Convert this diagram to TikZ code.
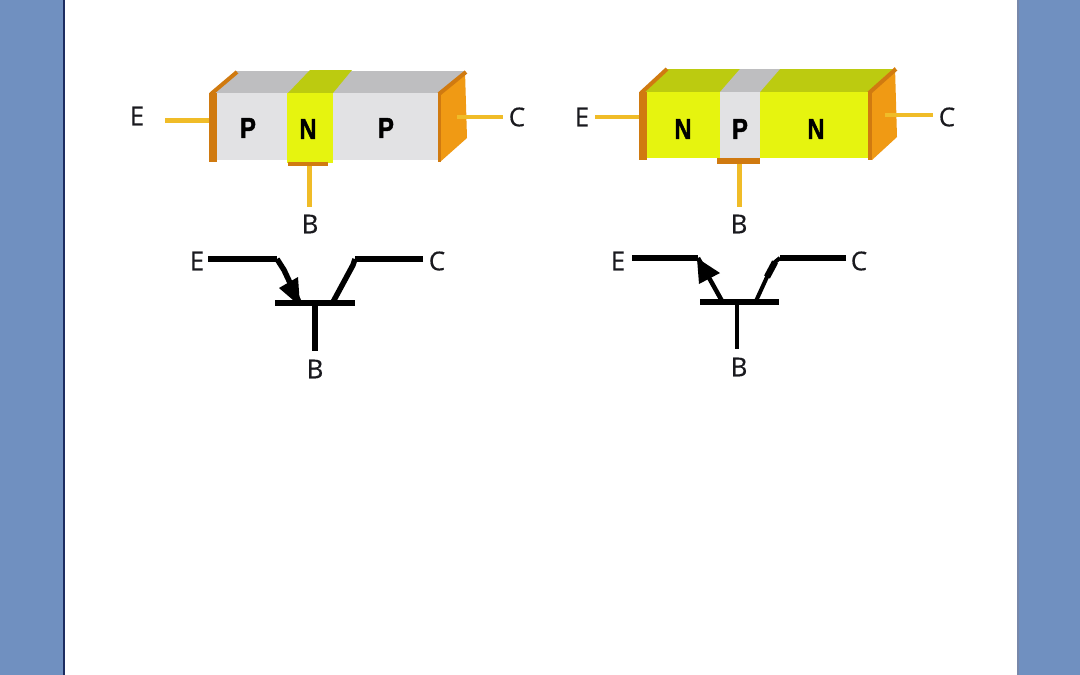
\documentclass[tikz,border=0pt]{standalone}
\usepackage{fontspec}
\setmainfont[FakeBold=0.35]{Open Sans}
\newfontfamily\letterfont[BoldFeatures={FakeBold=1.6}]{Liberation Sans}
\definecolor{sideblue}{RGB}{112,144,192}
\definecolor{edgenavy}{RGB}{28,44,96}
\definecolor{edgegrey}{RGB}{120,136,170}
\definecolor{frontgrey}{RGB}{226,226,228}
\definecolor{topgrey}{RGB}{190,190,192}
\definecolor{frontyellow}{RGB}{230,244,15}
\definecolor{topyellow}{RGB}{188,203,16}
\definecolor{capfill}{RGB}{240,154,20}
\definecolor{capdark}{RGB}{208,122,16}
\definecolor{wirecol}{RGB}{240,188,40}
\definecolor{inkcol}{RGB}{25,25,30}
\tikzset{
  label text/.style={font=\fontsize{26}{26}\selectfont,text=inkcol,inner sep=0pt},
  layer text/.style={font=\letterfont\bfseries\fontsize{29}{29}\selectfont,text=black,inner sep=0pt,xscale=.82},
  lead/.style={draw=wirecol,line width=#1},
  sym/.style={draw=black,line width=#1,line join=round},
  capedge/.style={draw=capdark,line width=4pt},
}
\begin{document}
\begin{tikzpicture}[x=1pt,y=-1pt]
\useasboundingbox (0,0) rectangle (1080,675);
% page
\fill[sideblue] (0,0) rectangle (63,675);
\fill[edgenavy] (63,0) rectangle (65,675);
\fill[white] (65,0) rectangle (1017,675);
\fill[edgegrey] (1017,0) rectangle (1019,675);
\fill[sideblue] (1019,0) rectangle (1080,675);

% ---------- PNP block ----------
\fill[topgrey] (212,93) -- (236,71) -- (465,71) -- (438,93) -- cycle;
\fill[frontgrey] (217,93) rectangle (438,160);
\fill[topyellow] (288,93) -- (310,70) -- (352,70) -- (333,93) -- cycle;
\fill[frontyellow] (287,93) rectangle (333,163);
\fill[capdark] (209,93) rectangle (217,162);
\draw[capedge] (211,94) -- (237,72);
\fill[capfill] (438,93) -- (465,71) -- (467,138) -- (440,162) -- cycle;
\draw[capedge] (439,94) -- (466,72);
\fill[capdark] (438,93) rectangle (441,162);
\fill[capdark] (288,162) rectangle (328,166);
\coordinate (lp e) at (209,120.5);
\coordinate (lp e end) at (165,120.5);
\coordinate (lp c) at (457,117);
\coordinate (lp c end) at (503,117);
\coordinate (lp b) at (309,166);
\coordinate (lp b end) at (309,207);
\draw[lead=5pt] (lp e end) -- (lp e);
\draw[lead=3.5pt] (lp c) -- (lp c end);
\draw[lead=5pt] (lp b) -- (lp b end);
\node[layer text] (lp1) at (248,128) {P};
\node[layer text] (lp2) at (308,129) {N};
\node[layer text] (lp3) at (386,128) {P};
\node[label text] (lpE) at (137,116) {E};
\node[label text] (lpC) at (517,117) {C};
\node[label text] (lpB) at (310,224) {B};

% ---------- NPN block ----------
\fill[topyellow] (642,92) -- (666,69) -- (893,69) -- (868,92) -- cycle;
\fill[frontyellow] (647,92) rectangle (868,158);
\fill[topgrey] (720,92) -- (740,69) -- (780,69) -- (760,92) -- cycle;
\fill[frontgrey] (720,92) rectangle (760,158);
\fill[capdark] (639,92) rectangle (647,160);
\draw[capedge] (641,93) -- (667,69);
\fill[capfill] (868,92) -- (895,67) -- (897,137) -- (872,160) -- cycle;
\draw[capedge] (869,93) -- (896,69);
\fill[capdark] (868,92) rectangle (872,160);
\fill[capdark] (717,158) rectangle (760,164);
\coordinate (rp e) at (639,117);
\coordinate (rp e end) at (595,117);
\coordinate (rp c) at (885,115);
\coordinate (rp c end) at (933,115);
\coordinate (rp b) at (739,164);
\coordinate (rp b end) at (739,207);
\draw[lead=3.5pt] (rp e end) -- (rp e);
\draw[lead=4pt] (rp c) -- (rp c end);
\draw[lead=5pt] (rp b) -- (rp b end);
\node[layer text] (rp1) at (683,129) {N};
\node[layer text] (rp2) at (740,129) {P};
\node[layer text] (rp3) at (816,129) {N};
\node[label text] (rpE) at (582,117) {E};
\node[label text] (rpC) at (947,117) {C};
\node[label text] (rpB) at (739,224) {B};

% ---------- PNP symbol ----------
\coordinate (ls e) at (208,259);
\coordinate (ls ek) at (277,259);
\coordinate (ls em) at (284,270);
\coordinate (ls ej) at (299,302);
\coordinate (ls c) at (423,259);
\coordinate (ls ck) at (355,259);
\coordinate (ls cm) at (353,265);
\coordinate (ls cj) at (333,302);
\coordinate (ls bl) at (275,303);
\coordinate (ls br) at (355,303);
\coordinate (ls bt) at (315,303);
\coordinate (ls b) at (315,351);
\draw[sym=6.5pt] (ls e) -- (ls ek);
\draw[sym=5.5pt] (ls ek) -- (ls em) -- (ls ej);
\fill[black] (279,288) -- (298,277) -- (300,306) -- cycle;
\draw[sym=6.5pt] (ls c) -- (ls ck);
\draw[sym=5.5pt] (ls ck) -- (ls cm) -- (ls cj);
\draw[sym=5.5pt] (ls bl) -- (ls br);
\draw[sym=5.5pt] (ls bt) -- (ls b);
\node[label text] (lsE) at (197,261) {E};
\node[label text] (lsC) at (437,261) {C};
\node[label text] (lsB) at (315,369) {B};

% ---------- NPN symbol ----------
\coordinate (rs e) at (632,258);
\coordinate (rs ek) at (698,258);
\coordinate (rs ej) at (722,301);
\coordinate (rs c) at (846,258);
\coordinate (rs ck) at (780,258);
\coordinate (rs cj) at (756,301);
\coordinate (rs bl) at (700,302);
\coordinate (rs br) at (779,302);
\coordinate (rs bt) at (737,302);
\coordinate (rs b) at (737,349);
\coordinate (rs t1) at (775,262);
\coordinate (rs t2) at (767,277);
\draw[sym=5.5pt] (rs e) -- (rs ek);
\draw[sym=4.5pt] (rs ek) -- (rs ej);
\fill[black] (697,258) -- (720,273) -- (699,284) -- cycle;
\draw[sym=5.5pt] (rs c) -- (rs ck);
\draw[sym=4pt] (rs ck) -- (rs t1) -- (rs t2) -- (rs cj);
\draw[sym=6.5pt] (rs t1) -- (rs t2);
\draw[sym=5.5pt] (rs bl) -- (rs br);
\draw[sym=3.2pt] (rs bt) -- (rs b);
\node[label text] (rsE) at (618,261) {E};
\node[label text] (rsC) at (859,261) {C};
\node[label text] (rsB) at (739,367) {B};
\end{tikzpicture}
\end{document}
